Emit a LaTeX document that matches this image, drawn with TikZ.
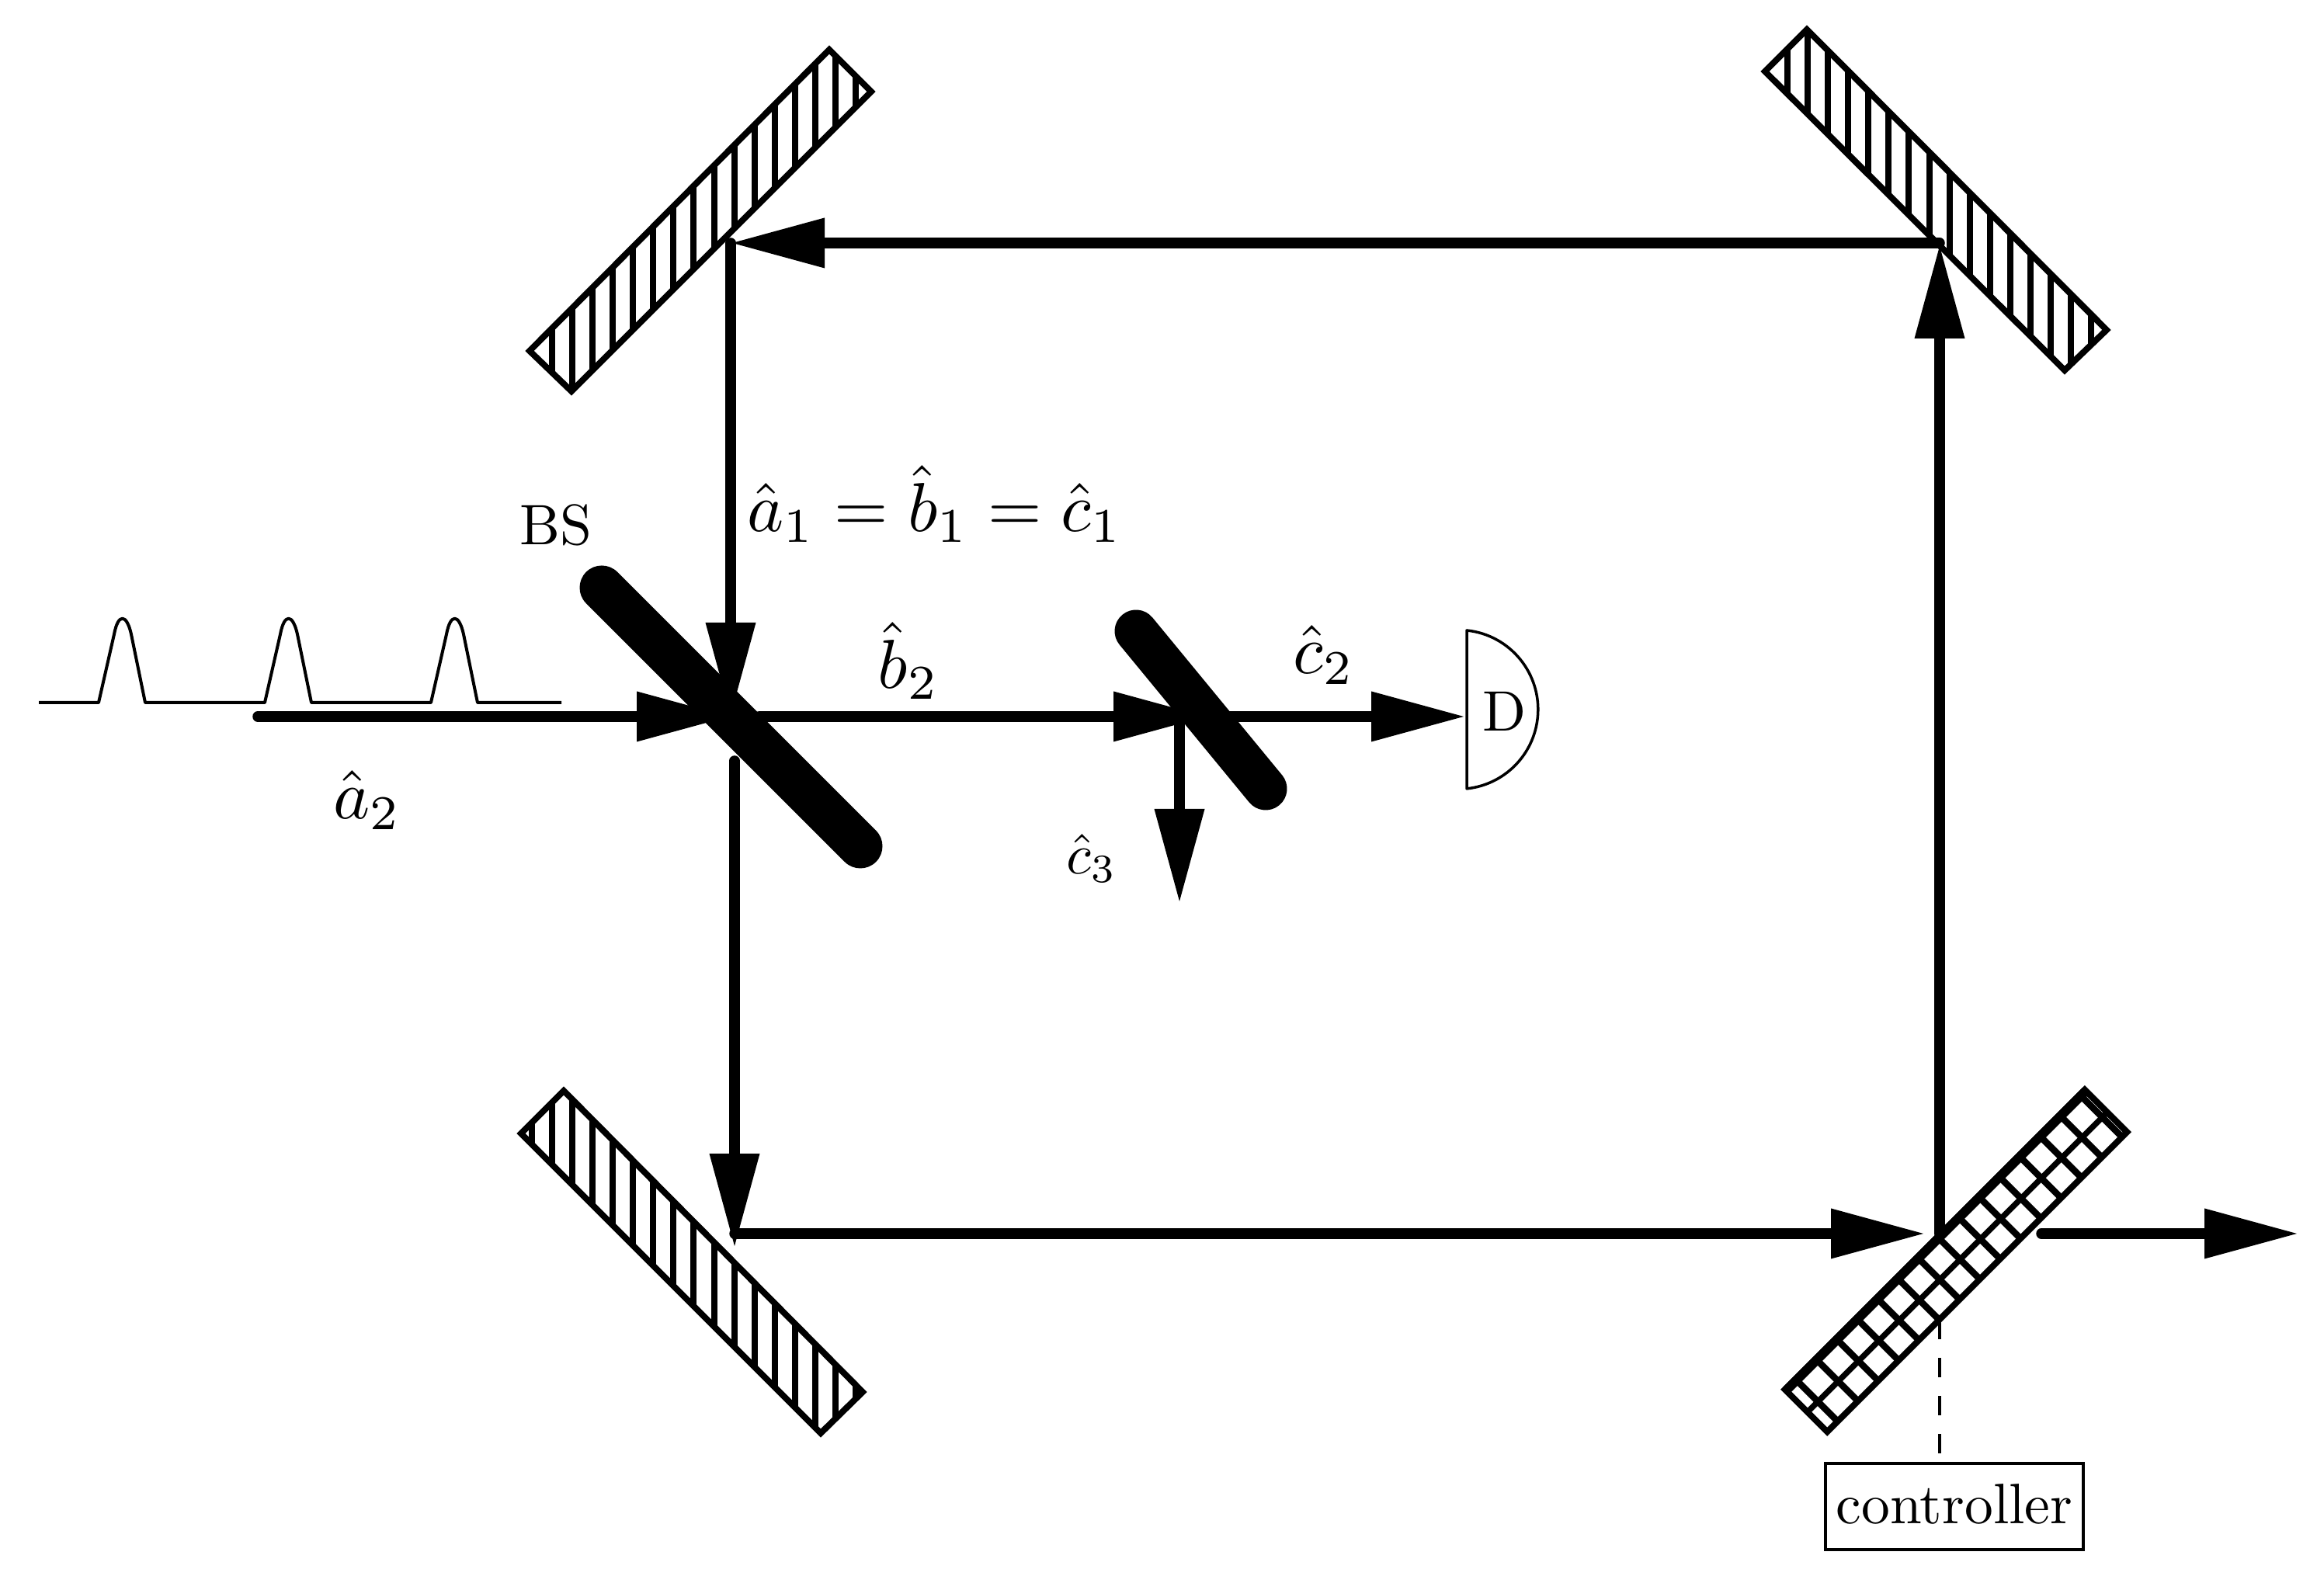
\documentclass[tikz,border=0pt]{standalone}
\usetikzlibrary{arrows.meta}
\tikzset{
  beam/.style={line width=0.135cm,line cap=round,-{Triangle[length=1.21cm,width=0.61cm]}},
  mirror/.style={line width=0.08cm},
  splitter/.style={line cap=round},
  pulsetrain/.style={line width=0.04cm,line join=round},
  lab/.style={inner sep=0pt,anchor=base west,scale=2.54},
  labsmall/.style={inner sep=0pt,anchor=base west,scale=2.09},
}

\begin{document}
\begin{tikzpicture}
\useasboundingbox (0,0) rectangle (29.93,20.30);
%\draw[help lines] (0,0) grid (29,20);

% beam points
\coordinate (inL) at (3.32,11.07);
\coordinate (bsC) at (9.41,11.07);
\coordinate (bsR) at (9.78,11.07);
\coordinate (bsD) at (9.46,10.50);
\coordinate (tipTL) at (9.41,17.17);
\coordinate (tipTR) at (24.98,17.17);
\coordinate (tipR) at (24.98,17.15);
\coordinate (dnBL) at (9.46,4.23);
\coordinate (cnBL) at (9.46,4.41);
\coordinate (cnBR) at (24.98,4.41);
\coordinate (tipBR) at (24.79,4.41);
\coordinate (outL) at (26.29,4.41);
\coordinate (outR) at (29.60,4.41);
\coordinate (bsB) at (15.55,11.07);
\coordinate (bsE) at (15.19,11.07);
\coordinate (c3end) at (15.19,8.67);
\coordinate (det) at (18.87,11.07);
\coordinate (fb) at (24.98,3.30);

% pulses
\draw[pulsetrain] (0.50,11.25) -- ++(0.77,0)
  -- ++(0.20,0.88) .. controls +(0.05,0.27) and +(-0.06,0.27) .. ++(0.22,0) -- ++(0.18,-0.88)
  -- ++(1.54,0)
  -- ++(0.20,0.88) .. controls +(0.05,0.27) and +(-0.06,0.27) .. ++(0.22,0) -- ++(0.18,-0.88)
  -- ++(1.54,0)
  -- ++(0.20,0.88) .. controls +(0.05,0.27) and +(-0.06,0.27) .. ++(0.22,0) -- ++(0.18,-0.88)
  -- (7.23,11.25);

% beams
\draw[beam] (inL) -- (bsC);
\draw[beam] (tipTL) -- (bsC);
\draw[beam] (tipTR) -- (tipTL);
\draw[beam] (bsD) -- (dnBL);
\draw[beam] (cnBL) -- (tipBR);
\draw[beam] (cnBR) -- (tipR);
\draw[beam] (outL) -- (outR);
\draw[beam] (bsR) -- (bsB);
\draw[beam] (bsB) -- (det);
\draw[beam] (bsE) -- (c3end);

% beam splitters
\draw[splitter,line width=0.57cm] (7.75,12.73) -- (11.08,9.40);
\draw[splitter,line width=0.55cm] (14.63,12.17) -- (16.30,10.14);

% upper left mirror
\begin{scope}
\clip (10.68,19.66) -- (11.22,19.12) -- (7.36,15.26) -- (6.82,15.78) -- cycle;
\foreach \x in {0,...,15} \draw[mirror] ({7.11+0.2607*\x},15) -- ({7.11+0.2607*\x},20);
\end{scope}
\draw[mirror] (10.68,19.66) -- (11.22,19.12) -- (7.36,15.26) -- (6.82,15.78) -- cycle;

% upper right mirror
\begin{scope}
\clip (23.27,19.92) -- (27.13,16.05) -- (26.59,15.53) -- (22.73,19.38) -- cycle;
\foreach \x in {0,...,15} \draw[mirror] ({23.02+0.2607*\x},15) -- ({23.02+0.2607*\x},20);
\end{scope}
\draw[mirror] (23.27,19.92) -- (27.13,16.05) -- (26.59,15.53) -- (22.73,19.38) -- cycle;

% lower left mirror
\begin{scope}
\clip (7.26,6.25) -- (11.11,2.37) -- (10.57,1.84) -- (6.71,5.70) -- cycle;
\foreach \x in {0,...,16} \draw[mirror] ({6.85+0.2606*\x},1) -- ({6.85+0.2606*\x},7);
\end{scope}
\draw[mirror] (7.26,6.25) -- (11.11,2.37) -- (10.57,1.84) -- (6.71,5.70) -- cycle;

% lower right mirror
\begin{scope}[shift={(25.19,4.06)},rotate=45]
\foreach \t in {0,...,14} \draw[line width=0.085cm] ({-2.54+0.37*\t},-0.385) -- ({-2.54+0.37*\t},0.385);
\draw[line width=0.075cm] (-2.73,-0.026) -- (2.73,-0.026);
\draw[mirror] (-2.73,-0.385) rectangle (2.73,0.385);
\draw[line width=0.12cm] (-2.73,0.365) -- (2.73,0.365);
\end{scope}

% detector
\draw[line width=0.035cm,line join=round] (18.89,12.18) arc [start angle=84,end angle=-84,radius=1.025] -- cycle;
\node[labsmall] (D) at (19.08,10.88) {D};

% controller
\node[draw,line width=0.035cm,inner sep=0pt,scale=2.09,minimum width=1.589cm,minimum height=0.531cm,text depth=0.029cm] (ctrl) at (25.17,0.895) {controller};
\draw[line width=0.04cm,dash pattern=on 0.25cm off 0.24cm] (fb) -- (fb |- ctrl.north);

% labels
\node[labsmall] (bsl) at (6.68,13.28) {BS};
\node[lab] (a1) at (9.61,13.45) {$\hat{a}_1=\hat{b}_1=\hat{c}_1$};
\node[lab] (a2) at (4.28,9.75) {$\hat{a}_2$};
\node[lab] (b2) at (11.29,11.43) {$\hat{b}_2$};
\node[lab] (c2) at (16.64,11.62) {$\hat{c}_2$};
\node[labsmall] (c3) at (13.72,9.04) {$\hat{c}_3$};
\end{tikzpicture}
\end{document}
